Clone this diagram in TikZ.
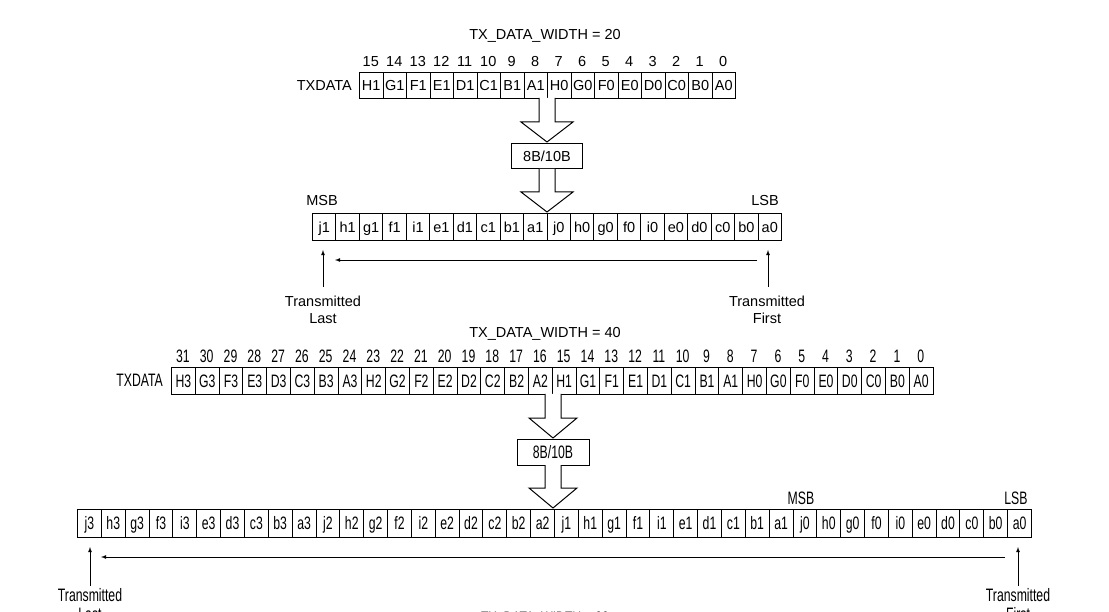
\documentclass[tikz,border=0pt]{standalone}
\usepackage{fontspec}
\setmainfont{Liberation Sans}
\begin{document}
\begin{tikzpicture}[x=1pt,y=-1pt,
  cell/.style={draw,line width=1pt,minimum height=#1,inner sep=0pt,anchor=north west},
  txt/.style={font=\fontsize{14.5}{16.5}\selectfont,inner sep=0pt,text height=10.4pt,text depth=0pt},
  ttxt/.style={font=\fontsize{14.5}{16.5}\selectfont,inner sep=0pt},
  ctxt/.style={font=\fontsize{18}{19}\selectfont,inner sep=0pt,xscale=0.68,text height=12.9pt,text depth=0pt},
  cttxt/.style={font=\fontsize{18}{19}\selectfont,inner sep=0pt,xscale=0.68},
  enc/.style={draw,line width=1pt,inner sep=0pt},
  fat/.style={draw,line width=1pt,fill=white},
  thin/.style={-latex,line width=0.8pt}]
\useasboundingbox (0,0) rectangle (1109,612);
\clip (0,0) rectangle (1109,612);
% ---------- width 20 ----------
\node[txt] (t1) at (545,34) {TX\_DATA\_WIDTH = 20};
\node[txt,anchor=east] (tx1) at (352,85) {TXDATA};
\foreach \l [count=\i from 0] in {H1,G1,F1,E1,D1,C1,B1,A1,H0,G0,F0,E0,D0,C0,B0,A0}{
  \pgfmathtruncatemacro\n{15-\i}
  \node[cell=26pt,minimum width=23.5pt,txt] (u\i) at (359+23.5*\i,72) {\l};
  \node[txt] (ui\i) at (370.75+23.5*\i,61) {\n};
}
\node[enc,minimum width=71pt,minimum height=25pt,txt] (e1) at (547,156.5) {8B/10B};
\draw[fat] (539,98)--(539,122)--(521,122)--(547,142)--(573,122)--(555,122)--(555,98);
\draw[fat] (539,169)--(539,192)--(521,192)--(547,212)--(573,192)--(555,192)--(555,169);
\foreach \l [count=\i from 0] in {j1,h1,g1,f1,i1,e1,d1,c1,b1,a1,j0,h0,g0,f0,i0,e0,d0,c0,b0,a0}{
  \node[cell=27pt,minimum width=23.45pt,txt] (l\i) at (312+23.45*\i,213) {\l};
}
\node[txt] (msb1) at (322,200) {MSB};
\node[txt] (lsb1) at (765,200) {LSB};
\node[ttxt,align=center] (tl1) at (323,310) {Transmitted\\Last};
\node[ttxt,align=center] (tf1) at (767,310) {Transmitted\\First};
\coordinate (a1) at (323,250); \coordinate (b1) at (768,250);
\draw[thin] (323,287) -- (a1);
\draw[thin] (768,287) -- (b1);
\coordinate (h1s) at (757,260); \coordinate (h1e) at (335,260);
\draw[thin] (h1s) -- (h1e);
% ---------- width 40 ----------
\node[txt] (t2) at (545,332) {TX\_DATA\_WIDTH = 40};
\node[ctxt,anchor=east] (tx2) at (163,380) {TXDATA};
\foreach \l [count=\i from 0] in {H3,G3,F3,E3,D3,C3,B3,A3,H2,G2,F2,E2,D2,C2,B2,A2,H1,G1,F1,E1,D1,C1,B1,A1,H0,G0,F0,E0,D0,C0,B0,A0}{
  \pgfmathtruncatemacro\n{31-\i}
  \node[cell=27pt,minimum width=23.8pt] (v\i) at (171+23.8*\i,367) {};
  \node[ctxt] at (v\i.center) {\l};
  \node[ctxt] (vi\i) at (182.9+23.8*\i,356) {\n};
}
\node[enc,minimum width=72pt,minimum height=26pt] (e2) at (553,452) {};
\node[ctxt] at (e2.center) {8B/10B};
\draw[fat] (545,394)--(545,418)--(529,418)--(553,438)--(577,418)--(561,418)--(561,394);
\draw[fat] (545,465)--(545,488)--(529,488)--(553,508)--(577,488)--(561,488)--(561,465);
\foreach \l [count=\i from 0] in {j3,h3,g3,f3,i3,e3,d3,c3,b3,a3,j2,h2,g2,f2,i2,e2,d2,c2,b2,a2,j1,h1,g1,f1,i1,e1,d1,c1,b1,a1,j0,h0,g0,f0,i0,e0,d0,c0,b0,a0}{
  \node[cell=28pt,minimum width=23.85pt] (m\i) at (77+23.85*\i,509) {};
  \node[ctxt] at (m\i.center) {\l};
}
\node[ctxt] (msb2) at (801,498) {MSB};
\node[ctxt] (lsb2) at (1016,498) {LSB};
\node[cttxt,align=center] (tl2) at (90,605) {Transmitted\\Last};
\node[cttxt,align=center] (tf2) at (1018,605) {Transmitted\\First};
\coordinate (a2) at (90,547); \coordinate (b2) at (1018,547);
\draw[thin] (90,586) -- (a2);
\draw[thin] (1018,586) -- (b2);
\coordinate (h2s) at (1005,557); \coordinate (h2e) at (101,557);
\draw[thin] (h2s) -- (h2e);
\node[ctxt] (t3) at (545,618) {TX\_DATA\_WIDTH = 80};
\end{tikzpicture}
\end{document}
